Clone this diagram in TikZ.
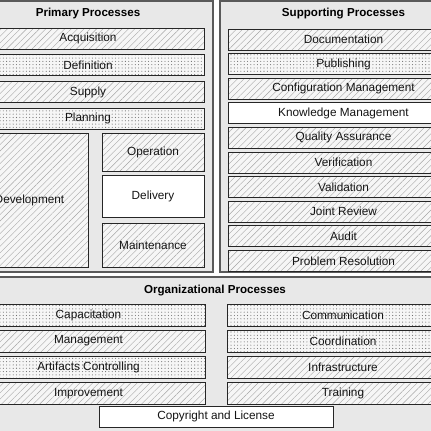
\documentclass[tikz,border=0pt]{standalone}
\usepackage{fontspec}
\setmainfont{Liberation Sans}
\usetikzlibrary{positioning, patterns.meta}
\definecolor{cGroup}{RGB}{232, 232, 232}
\definecolor{bGroup}{RGB}{90, 90, 90}
\definecolor{cBox}{RGB}{246, 246, 246}
\definecolor{cHatch}{RGB}{165, 165, 165}
\definecolor{cDot}{RGB}{110, 110, 110}
\definecolor{tDark}{RGB}{20, 20, 20}

\begin{document}
\begin{tikzpicture}[
    x=1pt, y=-1pt,
    font=\fontsize{11.8}{13}\selectfont,
    group/.style={
        draw=bGroup,
        line width=1.2pt,
        fill=cGroup,
        inner sep=0pt
    },
    title/.style={font=\fontsize{11.6}{13}\selectfont\bfseries, text=black},
    box/.style={
        draw=black!85,
        line width=0.8pt,
        inner sep=0pt,
        minimum height=21pt,
        text=tDark
    },
    hatchbox/.style={box, preaction={fill=cBox},
        preaction={pattern={Lines[angle=45, distance=4.5pt, line width=0.4pt]}, pattern color=cHatch}},
    dotbox/.style={box, preaction={fill=cBox},
        preaction={pattern={Dots[distance=3.3pt, radius=0.55pt]}, pattern color=cDot}},
    plainbox/.style={box, fill=white},
    lcol/.style={minimum width=233pt},
    rcol/.style={minimum width=231pt}
]

\fill[white] (0,0) rectangle (431,431);
\useasboundingbox (0,0) rectangle (431,431);
\clip (0,0) rectangle (431,431);

% Primary Processes
\node[group, minimum width=250pt, minimum height=271pt] (prim) at (88,136.5) {};
\node[title] (primtitle) at (88,13.5) {Primary Processes};

\node[hatchbox, lcol] (acq) at (88,38.5) {Acquisition};
\node[dotbox, lcol, below=5pt of acq] (def) {Definition};
\node[hatchbox, lcol, below=5pt of def] (sup) {Supply};
\node[dotbox, lcol, below=5pt of sup] (plan) {Planning};

\node[hatchbox, minimum width=117pt, minimum height=134pt] (dev) at (29.5,200) {Development};
\node[hatchbox, minimum width=102pt, minimum height=38pt] (oper) at (153,152) {Operation};
\node[plainbox, minimum width=102pt, minimum height=42pt] (deliv) at (153,196) {Delivery};
\node[hatchbox, minimum width=102pt, minimum height=44pt] (maint) at (153,245) {Maintenance};

% Supporting Processes
\node[group, minimum width=247pt, minimum height=271pt] (supp) at (343.5,136.5) {};
\node[title] (supptitle) at (343.5,13.5) {Supporting Processes};

\node[hatchbox, rcol] (doc) at (343.5,39.5) {Documentation};
\node[dotbox, rcol, below=2.8pt of doc] (pub) {Publishing};
\node[hatchbox, rcol, below=2.8pt of pub] (conf) {Configuration Management};
\node[plainbox, rcol, below=2.8pt of conf] (know) {Knowledge Management};
\node[hatchbox, rcol, below=2.8pt of know] (qa) {Quality Assurance};
\node[hatchbox, rcol, below=2.8pt of qa] (verif) {Verification};
\node[hatchbox, rcol, below=2.8pt of verif] (valid) {Validation};
\node[hatchbox, rcol, below=2.8pt of valid] (jrev) {Joint Review};
\node[hatchbox, rcol, below=2.8pt of jrev] (audit) {Audit};
\node[hatchbox, rcol, below=2.8pt of audit] (prob) {Problem Resolution};

% Organizational Processes
\node[group, minimum width=520pt, minimum height=200pt] (org) at (215,377) {};
\node[title] (orgtitle) at (215,290.5) {Organizational Processes};

\node[dotbox, lcol, minimum height=22pt] (capac) at (88.5,315) {Capacitation};
\node[hatchbox, lcol, minimum height=22pt, below=3.3pt of capac] (mgmt) {Management};
\node[dotbox, lcol, minimum height=22pt, below=3.3pt of mgmt] (artif) {Artifacts Controlling};
\node[hatchbox, lcol, minimum height=22pt, below=3.3pt of artif] (impr) {Improvement};

\node[dotbox, rcol, minimum height=22pt] (comm) at (343,315) {Communication};
\node[dotbox, rcol, minimum height=22pt, below=3.3pt of comm] (coord) {Coordination};
\node[hatchbox, rcol, minimum height=22pt, below=3.3pt of coord] (infra) {Infrastructure};
\node[hatchbox, rcol, minimum height=22pt, below=3.3pt of infra] (train) {Training};

\node[plainbox, minimum width=234pt] (copy) at (216,416.5) {Copyright and License};

\end{tikzpicture}
\end{document}
